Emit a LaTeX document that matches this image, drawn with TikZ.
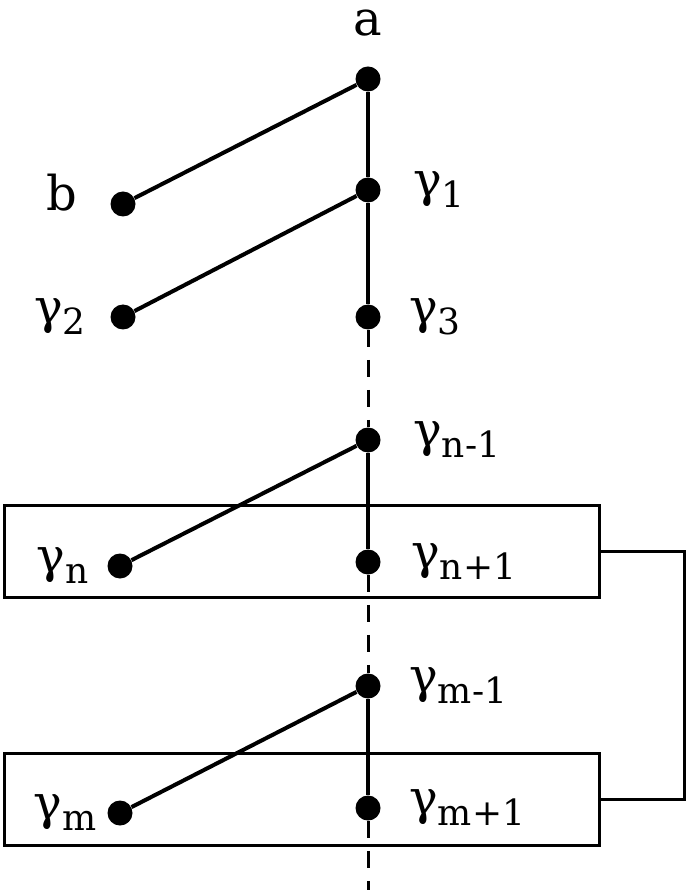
\documentclass[tikz,border=0pt]{standalone}
\usepackage{fontspec}
\newfontfamily\serifface{DejaVu Serif}
\usetikzlibrary{positioning}
\newcommand{\gsub}[1]{\raisebox{-5.5pt}{\fontsize{18}{18}\selectfont #1}}
\tikzset{
  vertex/.style    = {circle, fill, inner sep=0pt, minimum size=12.5pt},
  vlabel/.style    = {inner sep=0pt, font=\serifface\fontsize{24}{28}\selectfont},
  solidlink/.style = {line width=2pt},
  dashlink/.style  = {line width=1.5pt, dash pattern=on 8.5pt off 6.5pt},
  groupbox/.style  = {draw, rectangle, line width=1.5pt, minimum width=297.5pt, minimum height=46pt},
  loopback/.style  = {line width=1.5pt}
}
\begin{document}
\begin{tikzpicture}[x=0.5pt, y=-0.5pt]
    \useasboundingbox (0,0) rectangle (685,892);
    % the two boxes and the wire joining them
    \node[groupbox] (box1) at (301.5,551) {};
    \node[groupbox] (box2) at (301.5,799) {};
    \draw[loopback] (box1.east) -- ++(42pt,0) |- (box2.east);

    \node[vertex] (a)   at (368,79)  {};
    \node[vertex] (g1)  at (368,190) {};
    \node[vertex] (b)   at (123,204) {};
    \node[vertex] (g2)  at (123,317) {};
    \node[vertex] (g3)  at (368,317) {};
    \node[vertex] (gn1) at (368,440) {};
    \node[vertex] (gn)  at (120,566) {};
    \node[vertex] (gnp) at (368,562) {};
    \node[vertex] (gm1) at (368,686) {};
    \node[vertex] (gm)  at (120,813) {};
    \node[vertex] (gmp) at (368,808) {};
    \coordinate (tail) at (368,890);

    \node[vlabel] (la)   [above=15pt of a]              {a};
    \node[vlabel] (lb)   [left=16pt of b, yshift=5.5pt] {b};
    \node[vlabel] (lg1)  [right=16pt of g1]             {γ\gsub{1}};
    \node[vlabel] (lg2)  [left=12pt of g2]              {γ\gsub{2}};
    \node[vlabel] (lg3)  [right=14pt of g3]             {γ\gsub{3}};
    \node[vlabel] (lgn1) [right=16pt of gn1]            {γ\gsub{n-1}};
    \node[vlabel] (lgn)  [left=9pt of gn]               {γ\gsub{n}};
    \node[vlabel] (lgnp) [right=15pt of gnp]            {γ\gsub{n+1}};
    \node[vlabel] (lgm1) [right=14pt of gm1]            {γ\gsub{m-1}};
    \node[vlabel] (lgm)  [left=5pt of gm]               {γ\gsub{m}};
    \node[vlabel] (lgmp) [right=14pt of gmp]            {γ\gsub{m+1}};

    \draw[solidlink] (b) -- (a);
    \draw[solidlink] (g2) -- (g1);
    \draw[solidlink] (gn) -- (gn1);
    \draw[solidlink] (gm) -- (gm1);
    \draw[solidlink] (a) -- (g1) -- (g3);
    \draw[dashlink]  (g3) -- (gn1);
    \draw[solidlink] (gn1) -- (gnp);
    \draw[dashlink]  (gnp) -- (gm1);
    \draw[solidlink] (gm1) -- (gmp);
    \draw[dashlink]  (gmp) -- (tail);
\end{tikzpicture}
\end{document}
